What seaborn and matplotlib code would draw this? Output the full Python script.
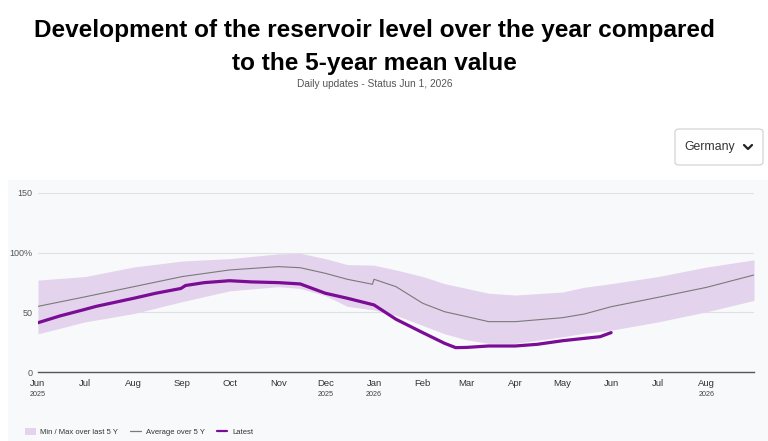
import numpy as np
import pandas as pd
import matplotlib
matplotlib.use("Agg")
import matplotlib.pyplot as plt
from matplotlib.patches import Rectangle, FancyBboxPatch, Patch
from matplotlib.lines import Line2D
import seaborn as sns

# ---------------- data ----------------
band_dates = ["2025-06-01", "2025-07-01", "2025-08-01", "2025-09-01", "2025-10-01",
              "2025-11-01", "2025-11-15", "2025-12-01", "2025-12-15", "2026-01-01",
              "2026-01-15", "2026-02-01", "2026-02-15", "2026-03-01", "2026-03-15",
              "2026-04-01", "2026-05-01", "2026-05-15", "2026-06-01", "2026-07-01",
              "2026-08-01", "2026-08-31"]
band_max = [77, 80, 88, 93, 95, 99, 99.5, 95, 90, 89.5, 85.5, 80, 74, 70, 66,
            64.5, 67, 71, 74, 80, 88, 94]
band_min = [32, 42, 49, 59, 68, 71.5, 70, 64, 55, 52, 47.5, 39, 32, 27, 24,
            24, 29.5, 32.5, 35, 42, 50.5, 60]

avg_dates = ["2025-06-01", "2025-07-01", "2025-08-01", "2025-09-01", "2025-10-01",
             "2025-11-01", "2025-11-15", "2025-12-01", "2025-12-15", "2025-12-31",
             "2026-01-01", "2026-01-15", "2026-02-01", "2026-02-15", "2026-03-01",
             "2026-03-15", "2026-04-01", "2026-05-01", "2026-05-15", "2026-06-01",
             "2026-07-01", "2026-08-01", "2026-08-31"]
avg_values = [55, 63, 71.5, 80, 85.5, 88.3, 87.4, 82.7, 77.7, 73.5,
              77.7, 71.5, 57.6, 50.5, 46.4, 42.2, 42.2, 45.5, 48.6, 54.7,
              62.6, 71, 81.3]

latest_dates = ["2025-06-01", "2025-06-15", "2025-07-01", "2025-07-08", "2025-08-01",
                "2025-08-15", "2025-08-31", "2025-09-03", "2025-09-15", "2025-10-01",
                "2025-10-15", "2025-11-01", "2025-11-15", "2025-12-01", "2025-12-15",
                "2026-01-01", "2026-01-15", "2026-02-01", "2026-02-15", "2026-02-22",
                "2026-03-01", "2026-03-15", "2026-04-01", "2026-04-15", "2026-05-01",
                "2026-05-15", "2026-05-25", "2026-06-01"]
latest_values = [41.3, 47, 52.5, 55, 61.8, 66, 70, 72.5, 74.9, 76.5,
                 75.5, 74.9, 73.8, 66, 61.8, 56.2, 44.2, 33, 24, 20.4,
                 20.6, 21.8, 21.8, 23.2, 26.2, 28.2, 29.6, 33]

tick_months = ["2025-06-01", "2025-07-01", "2025-08-01", "2025-09-01", "2025-10-01",
               "2025-11-01", "2025-12-01", "2026-01-01", "2026-02-01", "2026-03-01",
               "2026-04-01", "2026-05-01", "2026-06-01", "2026-07-01", "2026-08-01"]
tick_labels = ["Jun", "Jul", "Aug", "Sep", "Oct", "Nov", "Dec", "Jan", "Feb", "Mar",
               "Apr", "May", "Jun", "Jul", "Aug"]
tick_years = {"2025-06-01": "2025", "2025-12-01": "2025", "2026-01-01": "2026",
              "2026-08-01": "2026"}
y_ticks = [0, 50, 100, 150]
y_labels = ["0", "50", "100%", "150"]

title_text = "Development of the reservoir level over the year compared\nto the 5-year mean value"
subtitle_text = "Daily updates - Status Jun 1, 2026"
legend_labels = ["Min / Max over last 5 Y", "Average over 5 Y", "Latest"]

# ---------------- styling ----------------
sns.set_style("white")
plt.rcParams["font.family"] = ["Liberation Sans", "DejaVu Sans"]

BAND = "#e4d3ec"
AVG = "#7a7a7a"
LATEST = "#7b0c95"
PANEL = "#f8f9fb"

W, H = 768, 441
fig = plt.figure(figsize=(W / 100, H / 100), dpi=100)
fig.patch.set_facecolor("white")

# panel background
fig.add_artist(Rectangle((8 / W, 0), 1 - 8 / W, 1 - 180 / H, transform=fig.transFigure,
                         facecolor=PANEL, edgecolor="none", zorder=0))

ax = fig.add_axes([38 / W, 1 - 372 / H, (754 - 38) / W, (372 - 193) / H])
ax.set_facecolor(PANEL)

band_df = pd.DataFrame({"date": pd.to_datetime(band_dates), "lo": band_min, "hi": band_max})
avg_df = pd.DataFrame({"date": pd.to_datetime(avg_dates), "value": avg_values})
latest_df = pd.DataFrame({"date": pd.to_datetime(latest_dates), "value": latest_values})

ax.fill_between(band_df["date"], band_df["lo"], band_df["hi"], color=BAND, lw=0, zorder=1)
sns.lineplot(data=avg_df, x="date", y="value", ax=ax, color=AVG, lw=0.8, zorder=3)
sns.lineplot(data=latest_df, x="date", y="value", ax=ax, color=LATEST, lw=2.3, zorder=4)

ax.set_xlim(pd.Timestamp("2025-06-01"), pd.Timestamp("2026-08-31"))
ax.set_ylim(0, 150)
ax.set_xlabel("")
ax.set_ylabel("")

for s in ["top", "right", "left"]:
    ax.spines[s].set_visible(False)
ax.spines["bottom"].set_color("#555555")
ax.spines["bottom"].set_linewidth(1.0)

ax.set_yticks(y_ticks)
ax.set_yticklabels(y_labels, fontsize=6.5, color="#555555")
ax.tick_params(axis="y", length=0, pad=4)
for v in y_ticks[1:]:
    ax.axhline(v, color="#dfe1e5", lw=0.8, zorder=0.5)

tick_pos = pd.to_datetime(tick_months)
ax.set_xticks(tick_pos)
ax.set_xticklabels(tick_labels, fontsize=6.8, color="#333333")
ax.tick_params(axis="x", length=3, width=0.8, color="#555555", pad=2)
for d, yr in tick_years.items():
    ax.text(pd.Timestamp(d), -16, yr, fontsize=5.2, color="#444444",
            ha="center", va="top")

# titles
fig.text(0.4876, 1 - 47 / H, title_text, ha="center", va="center", fontsize=17.6,
         fontweight="bold", color="black", linespacing=1.52)
fig.text(0.4876, 1 - 84 / H, subtitle_text, ha="center", va="center", fontsize=7.3,
         color="#555555")

# dropdown box
fig.add_artist(FancyBboxPatch((675 / W, 1 - 165 / H), 88 / W, 36 / H,
                              boxstyle="round,pad=0,rounding_size=0.006",
                              transform=fig.transFigure, facecolor="white",
                              edgecolor="#cfcfcf", lw=0.8, zorder=2))
fig.text(709.5 / W, 1 - 147 / H, "Germany", ha="center", va="center", fontsize=8.8,
         color="#333333", zorder=3)
fig.add_artist(Line2D([744 / W, 748 / W, 752 / W], [1 - 145 / H, 1 - 149 / H, 1 - 145 / H],
                      transform=fig.transFigure, color="#222222", lw=1.6, zorder=3))

# legend
handles = [Patch(facecolor=BAND, edgecolor="none"),
           Line2D([0], [0], color=AVG, lw=0.9),
           Line2D([0], [0], color=LATEST, lw=1.6)]
leg = fig.legend(handles, legend_labels, loc="center left", bbox_to_anchor=(18 / W, 1 - 432 / H),
                 ncol=3, frameon=False, fontsize=5.5, handlelength=1.4, handleheight=1.0,
                 columnspacing=1.6, handletextpad=0.6, labelcolor="#333333")

fig.savefig("out.png", dpi=100, facecolor="white")
